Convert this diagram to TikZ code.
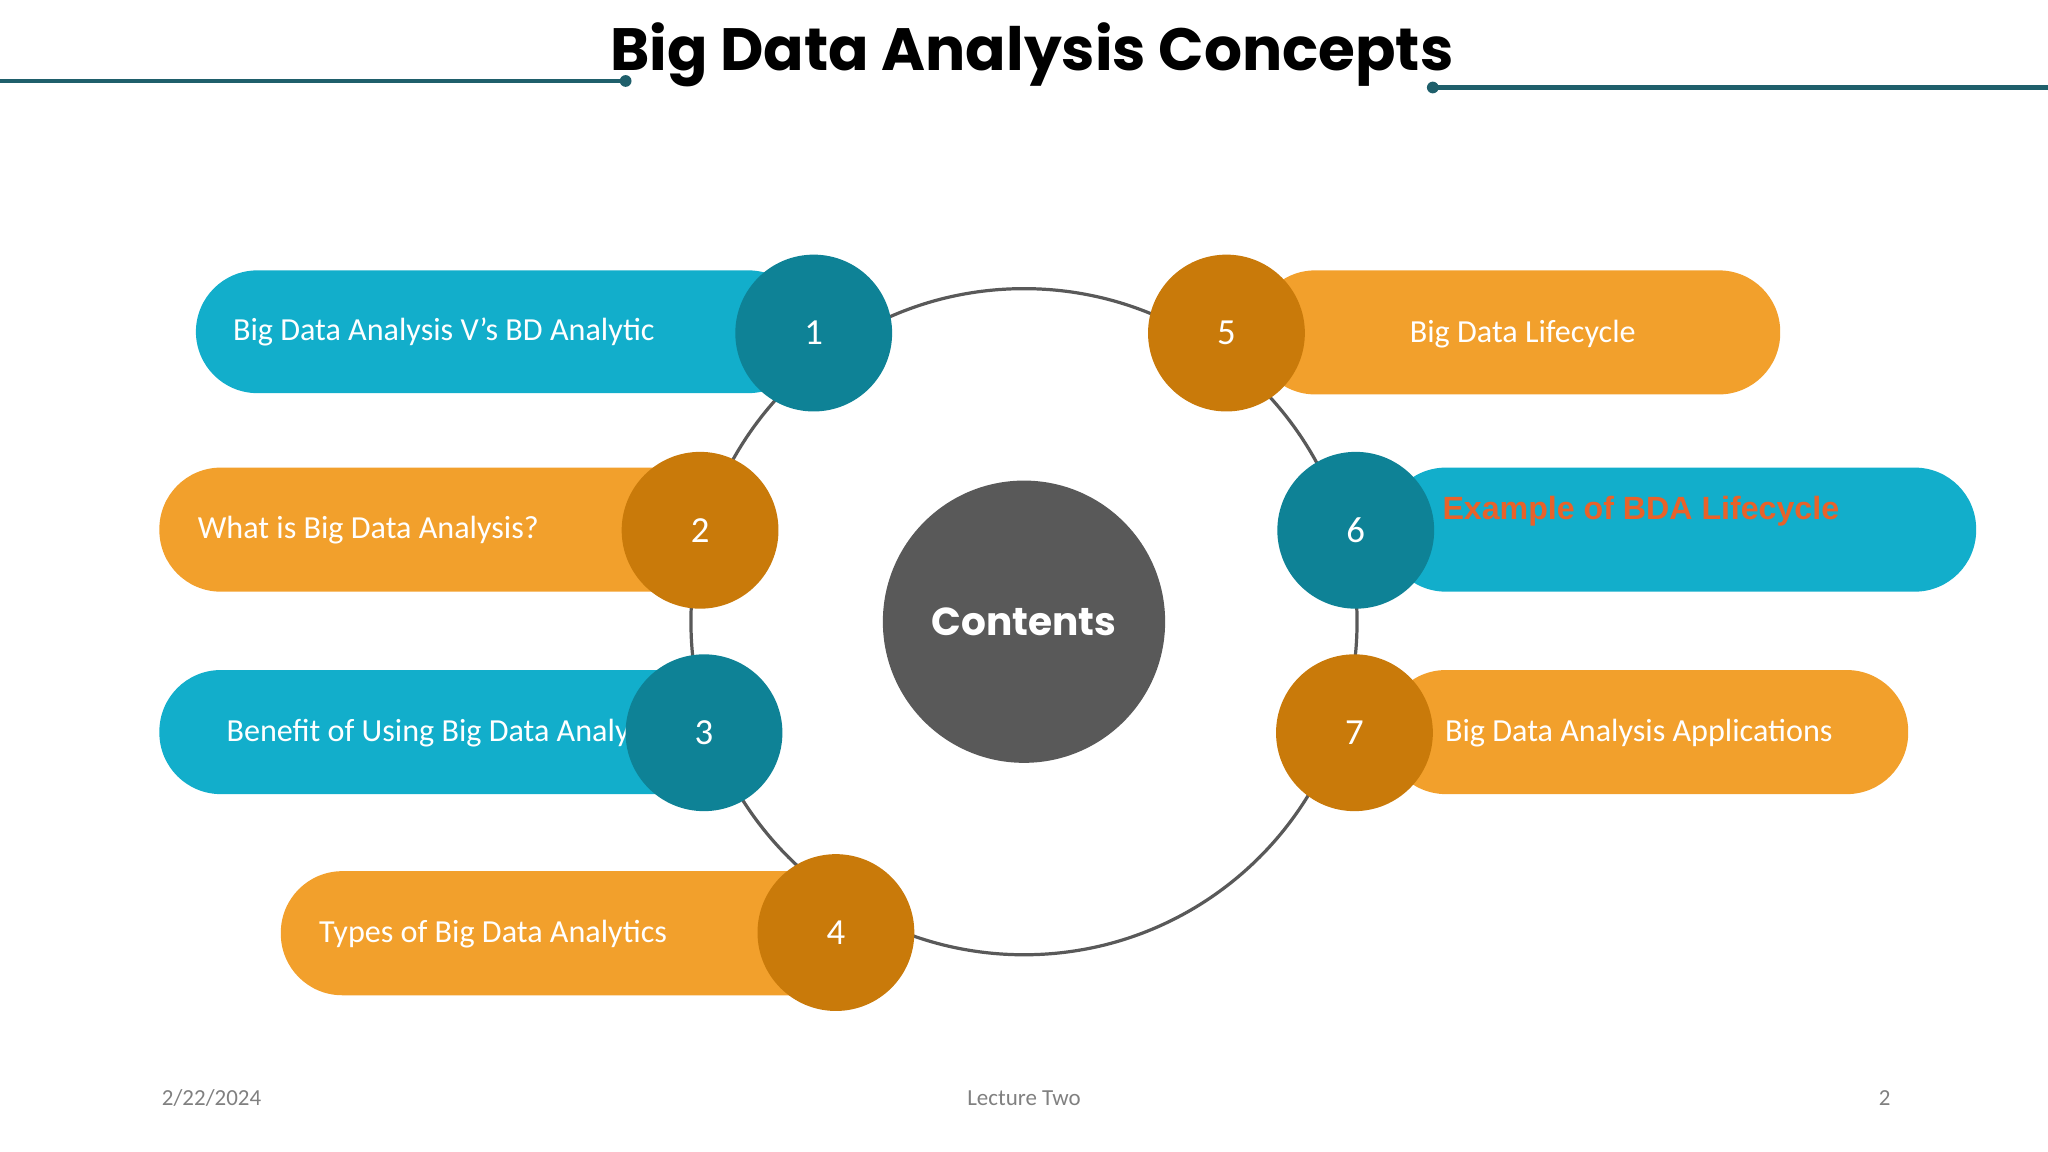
\documentclass[tikz,border=0pt]{standalone}
\usepackage{fontspec}
\setmainfont{Carlito}
\newfontfamily\headfont{Poppins}
\definecolor{tealL}{HTML}{12AECB}
\definecolor{tealD}{HTML}{0E8296}
\definecolor{orangeL}{HTML}{F2A02C}
\definecolor{orangeD}{HTML}{C97A0A}
\definecolor{rule}{HTML}{1F5F6B}
\definecolor{redish}{HTML}{E8622A}
\tikzset{
  pilltext/.style={text=white,font=\fontsize{7}{8}\selectfont,anchor=west},
  num/.style={circle,minimum size=1.2cm,inner sep=0pt,text=white,font=\fontsize{8}{9}\selectfont},
}
\begin{document}
\begin{tikzpicture}[x=0.01cm,y=-0.01cm]
\useasboundingbox (0,0) rectangle (1568,882);

% title and rules
\node (title) at (790,42) {\headfont\bfseries\fontsize{13}{15}\selectfont Big Data Analysis Concepts};
\draw[rule,line width=1pt] (0,62) -- (479,62);
\fill[rule] (479,62) circle (4.5);
\draw[rule,line width=1pt] (1097,67) -- (1568,67);
\fill[rule] (1097,67) circle (4.5);

% ring
\draw[gray!70!black,line width=0.7pt] (784,476) circle (255);
\node[circle,fill=black!65,minimum size=2.16cm,inner sep=0pt,text=white,font=\headfont\bfseries\fontsize{8.5}{10}\selectfont] (contents) at (784,476) {Contents};

% left pills
\fill[tealL] (150,207) [rounded corners=0.47cm] rectangle (620,301);
\fill[orangeL] (122,358) [rounded corners=0.47cm] rectangle (560,453);
\fill[tealL] (122,513) [rounded corners=0.47cm] rectangle (560,608);
\fill[orangeL] (215,667) [rounded corners=0.47cm] rectangle (660,762);
\node[pilltext] (t1) at (166,254) {Big Data Analysis V’s BD Analytic};
\node[pilltext] (t2) at (139,406) {What is Big Data Analysis?};
\node[pilltext] (t3) at (161,561) {Benefit of Using Big Data Analysis};
\node[pilltext] (t4) at (232,715) {Types of Big Data Analytics};

% right pills
\fill[orangeL] (960,207) [rounded corners=0.47cm] rectangle (1363,302);
\fill[tealL] (1060,358) [rounded corners=0.47cm] rectangle (1513,453);
\fill[orangeL] (1060,513) [rounded corners=0.47cm] rectangle (1461,608);
\node[pilltext] (t5) at (1067,256) {Big Data Lifecycle};
\node[pilltext,text=redish,font=\fontspec{Liberation Sans}\bfseries\fontsize{7}{8}\selectfont] (t6) at (1092,391) {Example of BDA Lifecycle};
\node[pilltext] (t7) at (1094,561) {Big Data Analysis Applications};

% numbers
\node[num,fill=tealD] (n1) at (623,255) {1};
\node[num,fill=orangeD] (n2) at (536,406) {2};
\node[num,fill=tealD] (n3) at (539,561) {3};
\node[num,fill=orangeD] (n4) at (640,714) {4};
\node[num,fill=orangeD] (n5) at (939,255) {5};
\node[num,fill=tealD] (n6) at (1038,406) {6};
\node[num,fill=orangeD] (n7) at (1037,561) {7};

% footer
\node[text=black!50,font=\fontsize{5}{6}\selectfont] (date) at (162,841) {2/22/2024};
\node[text=black!50,font=\fontsize{5}{6}\selectfont] (lect) at (784,841) {Lecture Two};
\node[text=black!50,font=\fontsize{5}{6}\selectfont] (page) at (1443,841) {2};
\end{tikzpicture}
\end{document}
